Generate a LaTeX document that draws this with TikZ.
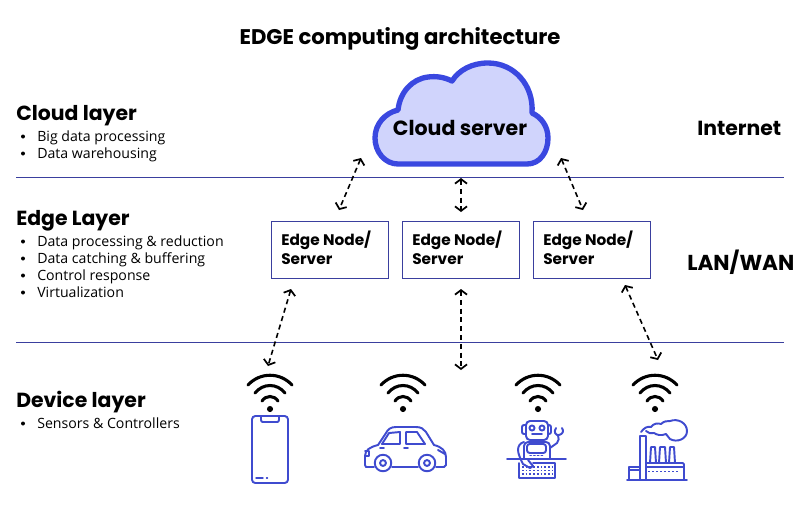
\documentclass[tikz,border=0pt]{standalone}
\usepackage{fontspec}
\setmainfont{Open Sans}
\newfontfamily\headfont{Poppins}[FontFace={sb}{n}{Font=* SemiBold}]
\usetikzlibrary{arrows.meta}
\definecolor{navy}{HTML}{3A3F9E}
\definecolor{cloudline}{HTML}{3A48E0}
\definecolor{cloudfill}{HTML}{D0D4FC}
\definecolor{icon}{HTML}{3F4BCF}
\tikzset{
  x=0.75pt,y=-0.75pt,
  head/.style={anchor=base west,inner sep=0pt,font=\headfont\bfseries\fontsize{15.3}{17}\selectfont},
  bul/.style={anchor=base west,inner sep=0pt,font=\fontsize{10.6}{12}\selectfont},
  dotb/.style={circle,fill=black,inner sep=0pt,minimum size=3pt},
  edgebox/.style={draw=navy,line width=0.7pt,minimum width=87.75pt,minimum height=42.75pt,inner sep=0pt},
  boxtxt/.style={anchor=base west,inner sep=0pt,font=\headfont\bfseries\fontsize{11.5}{13}\selectfont},
  sep/.style={draw=navy,line width=0.6pt},
  link/.style={draw=black,line width=1.2pt,dash pattern=on 3.8pt off 2.8pt,{Straight Barb[length=3.4pt,width=9pt,line width=1.3pt]}-{Straight Barb[length=3.4pt,width=9pt,line width=1.3pt]}},
  ic/.style={draw=icon,line width=1.45pt,line join=round,line cap=round},
  icthin/.style={draw=icon,line width=1.1pt,line cap=round},
  pics/wifi/.style={code={
    \draw[black,line width=2.3pt,line cap=round] (-22,-24) .. controls (-10,-37) and (10,-37) .. (22,-24);
    \draw[black,line width=2.3pt,line cap=round] (-15,-16) .. controls (-7,-26) and (7,-26) .. (15,-16);
    \draw[black,line width=2.3pt,line cap=round] (-8,-8) .. controls (-4,-14) and (4,-14) .. (8,-8);
    \fill[black] (0,0) circle (2.3pt);
  }}
}
\begin{document}
\begin{tikzpicture}
\useasboundingbox (0,0) rectangle (800,519);
% separators
\coordinate (s1a) at (16,177.5); \coordinate (s1b) at (784,177.5);
\coordinate (s2a) at (16,342.5); \coordinate (s2b) at (784,342.5);
\draw[sep] (s1a) -- (s1b);
\draw[sep] (s2a) -- (s2b);
% title
\node[anchor=base,inner sep=0pt,font=\headfont\bfseries\fontsize{15.9}{18}\selectfont] (title) at (400,44) {EDGE computing architecture};
% cloud
\filldraw[draw=cloudline,fill=cloudfill,line width=4pt,line join=round]
 (398,164) -- (527,164)
 .. controls (540,164) and (548,152) .. (548,138)
 .. controls (548,126) and (541,117) .. (532,113)
 .. controls (534,85) and (514,63) .. (488,63)
 .. controls (472,63) and (459,70) .. (452,81)
 .. controls (444,77) and (436,76) .. (428,77)
 .. controls (412,79) and (400,92) .. (398,110)
 .. controls (385,113) and (375,124) .. (375,138)
 .. controls (375,152) and (385,164) .. (398,164) -- cycle;
\node[anchor=base,inner sep=0pt,font=\headfont\bfseries\fontsize{15.4}{18}\selectfont] (cloud) at (460,135) {Cloud server};
% left texts
\node[head] (h1) at (16,120) {Cloud layer};
\node[bul] (t11) at (37,141.5) {Big data processing};
\node[bul] (t12) at (37,158.5) {Data warehousing};
\node[dotb] (b11) at (23,136.5) {};
\node[dotb] (b12) at (23,153.5) {};
\node[head] (h2) at (16,225) {Edge Layer};
\node[bul] (t21) at (37,246.5) {Data processing \& reduction};
\node[bul] (t22) at (37,263.5) {Data catching \& buffering};
\node[bul] (t23) at (37,280.5) {Control response};
\node[bul] (t24) at (37,297.5) {Virtualization};
\node[dotb] (b21) at (23,241.5) {};
\node[dotb] (b22) at (23,258.5) {};
\node[dotb] (b23) at (23,275.5) {};
\node[dotb] (b24) at (23,292.5) {};
\node[head] (h3) at (16,407) {Device layer};
\node[bul] (t31) at (37,428.5) {Sensors \& Controllers};
\node[dotb] (b31) at (23,423.5) {};
% right labels
\node[head] (net) at (697,135.5) {Internet};
\node[head,font=\headfont\bfseries\fontsize{16.2}{18}\selectfont] (lan) at (687,270.5) {LAN/WAN};
% edge boxes
\node[edgebox] (e1) at (329.5,249.5) {};
\node[edgebox] (e2) at (460.5,249.5) {};
\node[edgebox] (e3) at (591.5,249.5) {};
\foreach \n/\x in {a/281,b/412,c/543}{
  \node[boxtxt] (l\n1) at (\x,245.5) {Edge Node/};
  \node[boxtxt] (l\n2) at (\x,264.5) {Server};
}
% connectors
\coordinate (c1) at (361,158); \coordinate (d1) at (339,210);
\coordinate (c2) at (461,178); \coordinate (d2) at (461,212);
\coordinate (c3) at (561,158); \coordinate (d3) at (583,210);
\coordinate (u1) at (291,289); \coordinate (v1) at (268,366);
\coordinate (u2) at (461,289); \coordinate (v2) at (461,370);
\coordinate (u3) at (625,285); \coordinate (v3) at (658,360);
\draw[link] (c1) -- (d1);
\draw[link] (c2) -- (d2);
\draw[link] (c3) -- (d3);
\draw[link] (u1) -- (v1);
\draw[link] (u2) -- (v2);
\draw[link] (u3) -- (v3);
% wifi
\pic at (270,409) {wifi};
\pic at (403,409) {wifi};
\pic at (538,409) {wifi};
\pic at (655,409) {wifi};
% phone
\draw[ic,rounded corners=2.5pt] (252,416) rectangle (288,483);
\draw[ic] (261,416.5) -- (261,420) .. controls (261,421.5) and (262,422) .. (263,422) -- (277,422) .. controls (278,422) and (279,421.5) .. (279,420) -- (279,416.5);
\draw[icthin] (256,478) -- (263,478);
\draw[icthin] (266.5,478) -- (267.5,478);
% car
\draw[ic] (374,467) -- (366,467) -- (365,465) -- (365,456) .. controls (365,450) and (370,447) .. (378,445)
 -- (386,433) .. controls (388,429) and (391,427) .. (396,427) -- (416,427) .. controls (421,427) and (424,429) .. (426,432)
 -- (434,445) .. controls (442,447) and (446,451) .. (446,457) -- (446,465) -- (444,467) -- (436,467);
\draw[ic] (392,467) -- (418,467);
\draw[ic] (383,463) circle (6.2pt);
\draw[ic] (383,463) circle (2.2pt);
\draw[ic] (427,463) circle (6.2pt);
\draw[ic] (427,463) circle (2.2pt);
\draw[ic] (382,444) -- (389,433) -- (400,432) -- (400,444) -- cycle;
\draw[ic] (406,444) -- (406,432) -- (417,432) -- (425,444) -- cycle;
\draw[ic] (380,448) -- (384,448);
\draw[ic] (404,448) -- (408,448);
\draw[ic] (365,451) -- (369,451) -- (369,456) -- (365,456);
\draw[ic] (438,450) -- (445,454);
% robot
\draw[ic,rounded corners=3pt] (526,421) rectangle (548,440);
\draw[ic] (532,428) circle (1.9pt);
\draw[ic] (542,428) circle (1.9pt);
\draw[ic] (532,434) -- (542,434);
\draw[ic,rounded corners=1.5pt] (526,425) -- (522,425) -- (522,434) -- (526,434);
\draw[ic,rounded corners=1.5pt] (548,425) -- (551,425) -- (551,434) -- (548,434);
\draw[ic,rounded corners=3pt] (524,458) -- (524,442) -- (550,442) -- (550,458);
\draw[ic,rounded corners=2pt] (527,444) rectangle (546,453);
\draw[icthin,dash pattern=on 1pt off 1.8pt] (530,455.5) -- (544,455.5);
\draw[ic] (550,448) -- (557,443) .. controls (559,441) and (559,438) .. (558,435);
\draw[ic] (556,428) .. controls (553,432) and (556,436) .. (559,435) .. controls (563,434) and (564,431) .. (562,428);
\draw[ic] (524,442) .. controls (520,443) and (518,446) .. (518,450) .. controls (518,454) and (521,460) .. (523,464) -- (530,468) -- (533,466) -- (528,460);
\draw[ic] (507,459) -- (566,459);
\draw[ic] (519,463) -- (519,478) -- (555,478) -- (555,463) -- (533,463);
\foreach \yy in {467,470.5,474}{
  \draw[icthin,dash pattern=on 1.2pt off 1.6pt,line cap=butt] (522,\yy) -- (553,\yy);
}
% factory
\draw[ic] (627,480) -- (687,480);
\draw[ic] (640,480) -- (640,436) -- (646,436) -- (646,480);
\draw[ic,rounded corners=1pt] (646,463) -- (684,463) -- (684,480);
\draw[ic] (646,467) -- (684,467);
\draw[ic] (629,480) -- (629,467) -- (639,467);
\draw[ic] (629,470) -- (639,470);
\draw[ic] (650,463) -- (651,447) -- (655,447) -- (656,463);
\draw[ic] (659,463) -- (660,447) -- (665,447) -- (666,463);
\draw[ic] (669,463) -- (670,447) -- (674,447) -- (675,463);
\draw[icthin,dash pattern=on 1.4pt off 1.6pt,line cap=butt] (648,471.5) -- (678,471.5);
\draw[ic] (641,432) .. controls (644,428) and (647,426) .. (651,427) .. controls (654,423) and (658,423) .. (661,424)
 .. controls (664,421) and (667,421) .. (670,421) .. controls (678,418) and (687,423) .. (687,431)
 .. controls (687,439) and (677,443) .. (670,439) .. controls (668,437) and (667,435) .. (666,434)
 .. controls (661,436) and (657,435) .. (654,433) .. controls (651,434) and (648,433) .. (646,431);
\end{tikzpicture}
\end{document}
